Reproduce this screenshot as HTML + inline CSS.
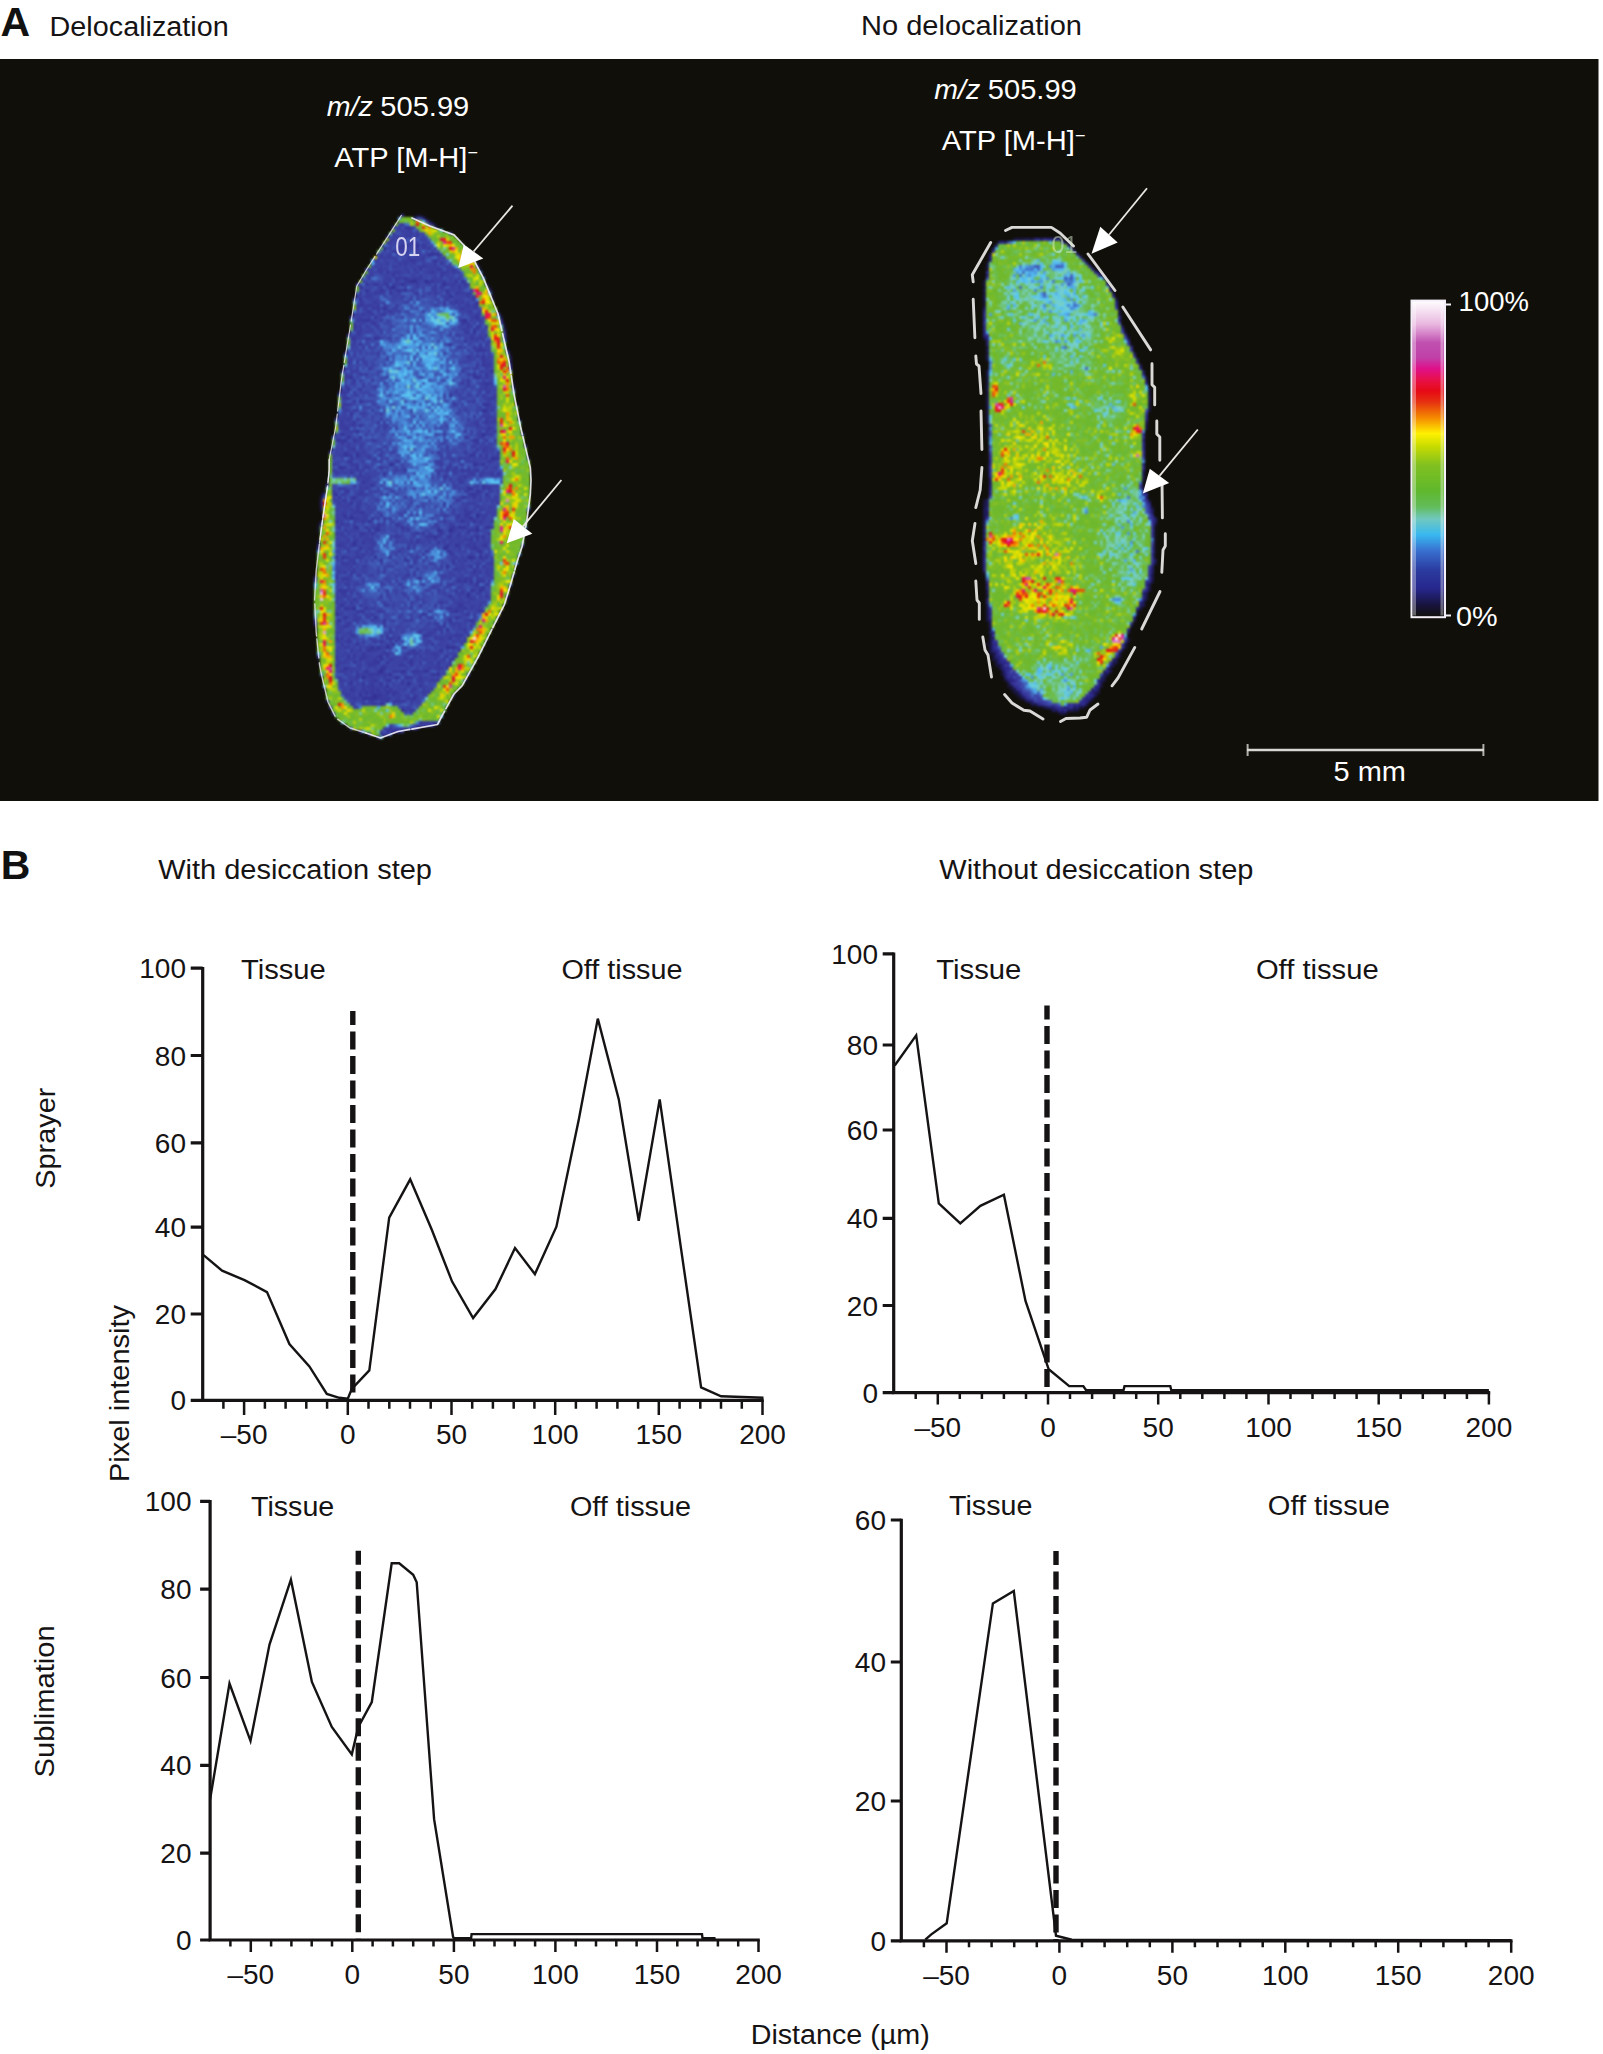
<!DOCTYPE html>
<html lang="en">
<head>
<meta charset="utf-8">
<title>Figure: delocalization</title>
<style>
html,body{margin:0;padding:0;background:#fff;}
body{width:1603px;height:2054px;overflow:hidden;}
svg{display:block;font-family:'Liberation Sans', sans-serif;}
</style>
</head>
<body>
<svg width="1603" height="2054" viewBox="0 0 1603 2054">
<defs>
<filter id="heatL" x="0" y="0" width="100%" height="100%" filterUnits="objectBoundingBox" color-interpolation-filters="sRGB">
<feTurbulence type="fractalNoise" baseFrequency="0.3" numOctaves="2" seed="7" result="t"/>
<feColorMatrix in="t" type="matrix" values="1 0 0 0 0  1 0 0 0 0  1 0 0 0 0  0 0 0 0 1" result="n"/>
<feComposite in="SourceGraphic" in2="n" operator="arithmetic" k1="1.1" k2="0.45" k3="0" k4="0" result="v"/>
<feFlood x="297" y="197" width="1" height="1" flood-color="#000" result="dot"/>
<feOffset in="dot" dx="0" dy="0" x="296" y="196" width="3" height="3" result="cell"/>
<feTile in="cell" result="grid"/>
<feComposite in="v" in2="grid" operator="in" result="samp"/>
<feMorphology in="samp" operator="dilate" radius="1" result="mos"/>
<feComponentTransfer in="mos" result="col">
<feFuncR type="table" tableValues="0.067 0.075 0.084 0.093 0.102 0.118 0.133 0.149 0.165 0.178 0.192 0.206 0.220 0.225 0.229 0.234 0.239 0.245 0.250 0.256 0.263 0.272 0.281 0.290 0.304 0.318 0.331 0.345 0.376 0.408 0.439 0.471 0.459 0.447 0.435 0.424 0.424 0.424 0.424 0.424 0.424 0.432 0.441 0.450 0.459 0.468 0.477 0.486 0.533 0.580 0.627 0.675 0.722 0.769 0.812 0.856 0.899 0.943 0.964 0.963 0.963 0.962 0.961 0.949 0.937 0.925 0.914 0.902 0.897 0.891 0.886 0.881 0.884 0.892 0.901 0.910 0.901 0.892 0.883 0.865 0.838 0.811 0.784 0.791 0.798 0.804 0.811 0.822 0.843 0.865 0.886 0.907 0.928 0.944 0.952 0.960 0.968 0.976 0.984 0.992 1.000"/>
<feFuncG type="table" tableValues="0.059 0.066 0.073 0.079 0.086 0.102 0.118 0.133 0.149 0.165 0.180 0.196 0.212 0.228 0.245 0.262 0.278 0.309 0.339 0.369 0.412 0.468 0.524 0.580 0.629 0.678 0.727 0.776 0.786 0.796 0.806 0.816 0.800 0.784 0.769 0.753 0.747 0.740 0.734 0.728 0.722 0.724 0.726 0.728 0.731 0.733 0.735 0.737 0.754 0.771 0.788 0.805 0.822 0.839 0.857 0.874 0.892 0.909 0.878 0.800 0.722 0.643 0.565 0.489 0.414 0.339 0.264 0.188 0.154 0.120 0.087 0.053 0.043 0.050 0.056 0.063 0.063 0.063 0.063 0.090 0.143 0.197 0.251 0.278 0.304 0.331 0.358 0.396 0.459 0.523 0.587 0.651 0.715 0.766 0.800 0.833 0.866 0.900 0.933 0.967 1.000"/>
<feFuncB type="table" tableValues="0.039 0.100 0.161 0.222 0.282 0.345 0.408 0.471 0.533 0.551 0.569 0.586 0.604 0.618 0.631 0.645 0.659 0.681 0.704 0.726 0.756 0.794 0.832 0.871 0.894 0.918 0.941 0.965 0.920 0.875 0.829 0.784 0.682 0.580 0.478 0.376 0.337 0.298 0.259 0.220 0.180 0.177 0.174 0.170 0.167 0.164 0.160 0.157 0.133 0.110 0.086 0.063 0.039 0.016 0.012 0.009 0.005 0.002 0.000 0.000 0.000 0.000 0.000 0.013 0.025 0.038 0.050 0.063 0.066 0.070 0.073 0.077 0.114 0.173 0.231 0.290 0.362 0.434 0.505 0.558 0.592 0.625 0.659 0.679 0.699 0.719 0.739 0.761 0.788 0.814 0.841 0.867 0.894 0.915 0.927 0.939 0.951 0.963 0.976 0.988 1.000"/>
</feComponentTransfer>
<feGaussianBlur in="col" stdDeviation="0.8"/>
</filter>
<filter id="heatR" x="0" y="0" width="100%" height="100%" filterUnits="objectBoundingBox" color-interpolation-filters="sRGB">
<feTurbulence type="fractalNoise" baseFrequency="0.3" numOctaves="2" seed="7" result="t"/>
<feColorMatrix in="t" type="matrix" values="1 0 0 0 0  1 0 0 0 0  1 0 0 0 0  0 0 0 0 1" result="n"/>
<feComposite in="SourceGraphic" in2="n" operator="arithmetic" k1="1.1" k2="0.45" k3="0" k4="0" result="v"/>
<feFlood x="951" y="206" width="1" height="1" flood-color="#000" result="dot"/>
<feOffset in="dot" dx="0" dy="0" x="950" y="205" width="3" height="3" result="cell"/>
<feTile in="cell" result="grid"/>
<feComposite in="v" in2="grid" operator="in" result="samp"/>
<feMorphology in="samp" operator="dilate" radius="1" result="mos"/>
<feComponentTransfer in="mos" result="col">
<feFuncR type="table" tableValues="0.067 0.075 0.084 0.093 0.102 0.118 0.133 0.149 0.165 0.178 0.192 0.206 0.220 0.225 0.229 0.234 0.239 0.245 0.250 0.256 0.263 0.272 0.281 0.290 0.304 0.318 0.331 0.345 0.376 0.408 0.439 0.471 0.459 0.447 0.435 0.424 0.424 0.424 0.424 0.424 0.424 0.432 0.441 0.450 0.459 0.468 0.477 0.486 0.533 0.580 0.627 0.675 0.722 0.769 0.812 0.856 0.899 0.943 0.964 0.963 0.963 0.962 0.961 0.949 0.937 0.925 0.914 0.902 0.897 0.891 0.886 0.881 0.884 0.892 0.901 0.910 0.901 0.892 0.883 0.865 0.838 0.811 0.784 0.791 0.798 0.804 0.811 0.822 0.843 0.865 0.886 0.907 0.928 0.944 0.952 0.960 0.968 0.976 0.984 0.992 1.000"/>
<feFuncG type="table" tableValues="0.059 0.066 0.073 0.079 0.086 0.102 0.118 0.133 0.149 0.165 0.180 0.196 0.212 0.228 0.245 0.262 0.278 0.309 0.339 0.369 0.412 0.468 0.524 0.580 0.629 0.678 0.727 0.776 0.786 0.796 0.806 0.816 0.800 0.784 0.769 0.753 0.747 0.740 0.734 0.728 0.722 0.724 0.726 0.728 0.731 0.733 0.735 0.737 0.754 0.771 0.788 0.805 0.822 0.839 0.857 0.874 0.892 0.909 0.878 0.800 0.722 0.643 0.565 0.489 0.414 0.339 0.264 0.188 0.154 0.120 0.087 0.053 0.043 0.050 0.056 0.063 0.063 0.063 0.063 0.090 0.143 0.197 0.251 0.278 0.304 0.331 0.358 0.396 0.459 0.523 0.587 0.651 0.715 0.766 0.800 0.833 0.866 0.900 0.933 0.967 1.000"/>
<feFuncB type="table" tableValues="0.039 0.100 0.161 0.222 0.282 0.345 0.408 0.471 0.533 0.551 0.569 0.586 0.604 0.618 0.631 0.645 0.659 0.681 0.704 0.726 0.756 0.794 0.832 0.871 0.894 0.918 0.941 0.965 0.920 0.875 0.829 0.784 0.682 0.580 0.478 0.376 0.337 0.298 0.259 0.220 0.180 0.177 0.174 0.170 0.167 0.164 0.160 0.157 0.133 0.110 0.086 0.063 0.039 0.016 0.012 0.009 0.005 0.002 0.000 0.000 0.000 0.000 0.000 0.013 0.025 0.038 0.050 0.063 0.066 0.070 0.073 0.077 0.114 0.173 0.231 0.290 0.362 0.434 0.505 0.558 0.592 0.625 0.659 0.679 0.699 0.719 0.739 0.761 0.788 0.814 0.841 0.867 0.894 0.915 0.927 0.939 0.951 0.963 0.976 0.988 1.000"/>
</feComponentTransfer>
<feGaussianBlur in="col" stdDeviation="0.8"/>
</filter>
<filter id="b1" x="-20%" y="-20%" width="140%" height="140%"><feGaussianBlur stdDeviation="1"/></filter>
<filter id="b2" x="-30%" y="-30%" width="160%" height="160%"><feGaussianBlur stdDeviation="2.2"/></filter>
<filter id="b4" x="-40%" y="-40%" width="180%" height="180%"><feGaussianBlur stdDeviation="4.5"/></filter>
<filter id="b7" x="-50%" y="-50%" width="200%" height="200%"><feGaussianBlur stdDeviation="7"/></filter>
<filter id="soft" x="-5%" y="-5%" width="110%" height="110%"><feGaussianBlur stdDeviation="0.6"/></filter>
<linearGradient id="cbar" x1="0" y1="1" x2="0" y2="0">
<stop offset="0.000" stop-color="#110f0a"/>
<stop offset="0.040" stop-color="#181440"/>
<stop offset="0.090" stop-color="#26268c"/>
<stop offset="0.150" stop-color="#2b3ca0"/>
<stop offset="0.210" stop-color="#3870d0"/>
<stop offset="0.260" stop-color="#38b8f0"/>
<stop offset="0.310" stop-color="#70c8c0"/>
<stop offset="0.350" stop-color="#62bc58"/>
<stop offset="0.400" stop-color="#60b82c"/>
<stop offset="0.480" stop-color="#80c020"/>
<stop offset="0.540" stop-color="#c8dc00"/>
<stop offset="0.580" stop-color="#fff000"/>
<stop offset="0.630" stop-color="#f58a00"/>
<stop offset="0.680" stop-color="#e63010"/>
<stop offset="0.714" stop-color="#e60a14"/>
<stop offset="0.750" stop-color="#e8104a"/>
<stop offset="0.785" stop-color="#e0108a"/>
<stop offset="0.820" stop-color="#c040a8"/>
<stop offset="0.867" stop-color="#c050b0"/>
<stop offset="0.926" stop-color="#e9b8e0"/>
<stop offset="1.000" stop-color="#ffffff"/>
</linearGradient>
</defs>
<text x="0.4" y="35.5" font-size="41.0" font-weight="bold" fill="#111">A</text>
<text x="49.6" y="35.5" font-size="28.4" textLength="179.1" lengthAdjust="spacingAndGlyphs" fill="#161314">Delocalization</text>
<text x="861.0" y="35.2" font-size="28.4" textLength="221.0" lengthAdjust="spacingAndGlyphs" fill="#161314">No delocalization</text>
<rect x="0" y="59" width="1598.5" height="742" fill="#110f0a"/>
<g filter="url(#heatL)">
<rect x="296" y="196" width="256" height="560" fill="#000"/>
<polygon points="401.4,215.4 412.0,218.0 429.8,226.0 454.0,234.9 468.7,250.3 483.3,277.9 497.9,313.5 509.2,362.2 514.1,394.6 520.6,427.0 530.3,467.6 531.0,480.0 530.3,494.3 527.1,518.7 522.2,546.2 517.4,560.8 510.9,583.5 504.4,604.6 494.6,624.0 478.4,656.5 462.2,685.7 454.0,694.0 443.0,714.0 437.5,724.5 398.0,731.5 380.5,738.0 366.0,733.0 350.0,728.0 336.0,718.0 328.0,702.0 322.0,677.0 319.5,664.6 316.2,632.2 314.6,599.8 316.2,570.6 319.5,543.0 322.7,518.7 327.6,486.2 329.2,470.0 329.2,459.5 335.7,427.0 341.4,380.0 347.0,346.0 350.3,326.5 356.8,286.0 366.5,269.7" fill="#6e6e6e"/>
<path d="M416.0 221.0 L441.0 238.0 L458.0 252.0 L473.0 271.0 L487.0 299.0 L497.0 326.0 L504.0 362.0 L507.5 400.0 L510.5 435.0 L517.0 470.0 L515.0 500.0 L509.0 530.0 L506.0 565.0 L501.0 596.0 L488.0 622.0 L471.0 652.0 L455.0 679.0 L439.0 702.0" fill="none" stroke="#888888" stroke-width="8" stroke-dasharray="22 9 8 14 35 7 12 18 27 11" stroke-dashoffset="0" filter="url(#b2)"/>
<path d="M416.0 221.0 L441.0 238.0 L458.0 252.0 L473.0 271.0 L487.0 299.0 L497.0 326.0 L504.0 362.0 L507.5 400.0 L510.5 435.0 L517.0 470.0 L515.0 500.0 L509.0 530.0 L506.0 565.0 L501.0 596.0 L488.0 622.0 L471.0 652.0 L455.0 679.0 L439.0 702.0" fill="none" stroke="#999999" stroke-width="4.5" stroke-dasharray="13 11 5 17 24 9 7 21 16 13" stroke-dashoffset="9" filter="url(#b1)"/>
<path d="M347.0 714.0 L334.0 695.0 L327.0 665.0 L325.0 620.0 L324.0 570.0 L326.0 530.0 L329.0 495.0" fill="none" stroke="#888888" stroke-width="8" stroke-dasharray="22 9 8 14 35 7 12 18 27 11" stroke-dashoffset="7" filter="url(#b2)"/>
<path d="M347.0 714.0 L334.0 695.0 L327.0 665.0 L325.0 620.0 L324.0 570.0 L326.0 530.0 L329.0 495.0" fill="none" stroke="#999999" stroke-width="4.5" stroke-dasharray="13 11 5 17 24 9 7 21 16 13" stroke-dashoffset="16" filter="url(#b1)"/>
<polyline points="441.0,239.0 450.0,246.0 457.0,252.0" fill="none" stroke="#bbbbbb" stroke-width="5" stroke-dasharray="9 4 5 5 13 6 6 3" filter="url(#b1)"/>
<polyline points="475.0,288.0 484.0,306.0 492.0,326.0 498.0,348.0 503.0,372.0 506.0,392.0" fill="none" stroke="#bbbbbb" stroke-width="5" stroke-dasharray="9 4 5 5 13 6 6 3" filter="url(#b1)"/>
<polyline points="501.0,418.0 504.0,440.0 509.0,462.0" fill="none" stroke="#bbbbbb" stroke-width="5" stroke-dasharray="9 4 5 5 13 6 6 3" filter="url(#b1)"/>
<polyline points="509.0,484.0 506.0,506.0 502.0,528.0 501.0,543.0" fill="none" stroke="#bbbbbb" stroke-width="5" stroke-dasharray="9 4 5 5 13 6 6 3" filter="url(#b1)"/>
<polyline points="497.0,560.0 497.0,585.0 497.0,606.0" fill="none" stroke="#bbbbbb" stroke-width="5" stroke-dasharray="9 4 5 5 13 6 6 3" filter="url(#b1)"/>
<polyline points="488.0,614.0 479.0,630.0 470.0,645.0" fill="none" stroke="#bbbbbb" stroke-width="5" stroke-dasharray="9 4 5 5 13 6 6 3" filter="url(#b1)"/>
<polyline points="462.0,665.0 454.0,678.0 446.0,689.0" fill="none" stroke="#bbbbbb" stroke-width="5" stroke-dasharray="9 4 5 5 13 6 6 3" filter="url(#b1)"/>
<polyline points="326.0,500.0 324.0,524.0" fill="none" stroke="#bbbbbb" stroke-width="5" stroke-dasharray="9 4 5 5 13 6 6 3" filter="url(#b1)"/>
<polyline points="321.0,566.0 322.0,600.0 324.0,630.0 326.0,650.0" fill="none" stroke="#bbbbbb" stroke-width="5" stroke-dasharray="9 4 5 5 13 6 6 3" filter="url(#b1)"/>
<polyline points="328.0,664.0 331.0,684.0" fill="none" stroke="#bbbbbb" stroke-width="5" stroke-dasharray="9 4 5 5 13 6 6 3" filter="url(#b1)"/>
<polygon points="400.0,221.0 411.0,225.0 423.3,232.4 446.0,256.8 462.2,271.4 478.4,300.6 488.2,329.8 494.6,362.2 497.1,410.9 497.9,443.3 502.8,475.8 499.5,502.4 491.4,534.9 493.8,567.3 491.4,599.8 478.4,620.8 462.2,648.4 450.0,668.0 430.0,694.0 420.0,706.0 412.0,716.0 405.0,716.0 398.0,707.0 388.0,704.0 380.0,708.0 366.0,705.0 355.0,710.0 344.0,700.0 337.0,685.0 334.9,664.6 334.0,616.0 333.3,567.3 334.0,518.7 332.4,490.0 331.0,470.0 331.0,459.5 337.5,427.0 343.0,380.0 349.0,346.0 352.0,326.5 358.5,286.0 368.0,270.5" fill="#282828" filter="url(#soft)"/>
<polygon points="379.0,730.0 390.0,725.0 410.0,726.0 420.0,721.0 435.0,720.0 439.0,724.5 410.0,730.0 398.0,733.0 382.0,737.0" fill="#242424" filter="url(#soft)"/>
<path d="M375.5 710V730" stroke="#333333" stroke-width="3" fill="none" filter="url(#soft)"/>
<ellipse cx="392" cy="716" rx="5" ry="2.6" fill="#999999" filter="url(#b1)" transform="rotate(25 392 716)"/>
<ellipse cx="343" cy="481" rx="14" ry="3.5" fill="#5c5c5c" filter="url(#b1)"/>
<ellipse cx="491" cy="481" rx="10" ry="2.3" fill="#4f4f4f" filter="url(#b1)"/>
<ellipse cx="474" cy="481.5" rx="9" ry="1.7" fill="#454545" filter="url(#b1)"/>
<ellipse cx="420" cy="380" rx="44.0" ry="90.0" fill="#2f2f2f" filter="url(#b7)"/>
<ellipse cx="385" cy="400" rx="30.0" ry="80.0" fill="#2c2c2c" filter="url(#b7)"/>
<ellipse cx="455" cy="400" rx="22.0" ry="70.0" fill="#2c2c2c" filter="url(#b7)"/>
<ellipse cx="418" cy="372" rx="34.0" ry="62.0" fill="#323232" filter="url(#b7)"/>
<ellipse cx="415" cy="500" rx="45.0" ry="28.0" fill="#2e2e2e" filter="url(#b7)"/>
<ellipse cx="405" cy="585" rx="45.0" ry="45.0" fill="#2b2b2b" filter="url(#b7)"/>
<ellipse cx="443" cy="318" rx="17.0" ry="10.0" fill="#414141" filter="url(#b2)"/>
<ellipse cx="447" cy="317" rx="8.0" ry="5.0" fill="#4f4f4f" filter="url(#b2)"/>
<ellipse cx="417" cy="352" rx="28.0" ry="17.0" fill="#393939" filter="url(#b4)"/>
<ellipse cx="410" cy="345" rx="9.0" ry="6.0" fill="#454545" filter="url(#b2)"/>
<ellipse cx="432" cy="360" rx="9.0" ry="14.0" fill="#404040" filter="url(#b2)"/>
<ellipse cx="400" cy="372" rx="14.0" ry="12.0" fill="#3c3c3c" filter="url(#b2)"/>
<ellipse cx="450" cy="374" rx="9.0" ry="14.0" fill="#393939" filter="url(#b2)"/>
<ellipse cx="418" cy="392" rx="24.0" ry="16.0" fill="#3c3c3c" filter="url(#b4)"/>
<ellipse cx="398" cy="410" rx="16.0" ry="12.0" fill="#393939" filter="url(#b2)"/>
<ellipse cx="438" cy="412" rx="14.0" ry="12.0" fill="#3b3b3b" filter="url(#b2)"/>
<ellipse cx="415" cy="436" rx="24.0" ry="16.0" fill="#393939" filter="url(#b4)"/>
<ellipse cx="408" cy="452" rx="9.0" ry="9.0" fill="#3d3d3d" filter="url(#b2)"/>
<ellipse cx="422" cy="466" rx="13.0" ry="14.0" fill="#3b3b3b" filter="url(#b2)"/>
<ellipse cx="455" cy="430" rx="8.0" ry="14.0" fill="#393939" filter="url(#b2)"/>
<ellipse cx="382" cy="395" rx="7.0" ry="10.0" fill="#393939" filter="url(#b2)"/>
<ellipse cx="385" cy="345" rx="5.0" ry="5.0" fill="#3b3b3b" filter="url(#b2)"/>
<ellipse cx="386" cy="300" rx="4.0" ry="4.0" fill="#383838" filter="url(#b2)"/>
<ellipse cx="376" cy="278" rx="4.0" ry="3.0" fill="#383838" filter="url(#b2)"/>
<ellipse cx="405" cy="482" rx="28.0" ry="6.0" fill="#3b3b3b" filter="url(#b2)"/>
<ellipse cx="432" cy="492" rx="24.0" ry="8.0" fill="#373737" filter="url(#b2)"/>
<ellipse cx="390" cy="505" rx="10.0" ry="10.0" fill="#363636" filter="url(#b2)"/>
<ellipse cx="420" cy="520" rx="14.0" ry="10.0" fill="#363636" filter="url(#b2)"/>
<ellipse cx="385" cy="545" rx="8.0" ry="14.0" fill="#363636" filter="url(#b2)"/>
<ellipse cx="438" cy="555" rx="8.0" ry="8.0" fill="#373737" filter="url(#b2)"/>
<ellipse cx="372" cy="588" rx="7.0" ry="7.0" fill="#393939" filter="url(#b2)"/>
<ellipse cx="415" cy="585" rx="9.0" ry="7.0" fill="#373737" filter="url(#b2)"/>
<ellipse cx="432" cy="577" rx="8.0" ry="6.0" fill="#383838" filter="url(#b2)"/>
<ellipse cx="440" cy="615" rx="8.0" ry="5.0" fill="#3b3b3b" filter="url(#b2)"/>
<ellipse cx="370" cy="631" rx="14.0" ry="5.5" fill="#4f4f4f" filter="url(#b2)"/>
<ellipse cx="364" cy="631" rx="6.0" ry="3.0" fill="#616161" filter="url(#b1)"/>
<ellipse cx="412" cy="640" rx="10.0" ry="7.0" fill="#454545" filter="url(#b2)"/>
<ellipse cx="398" cy="650" rx="4.0" ry="6.0" fill="#3d3d3d" filter="url(#b1)"/>
<ellipse cx="375" cy="690" rx="16" ry="10" fill="#202020" filter="url(#b4)"/>
<ellipse cx="372" cy="660" rx="10" ry="8" fill="#212121" filter="url(#b4)"/>
</g>
<g fill="none" stroke="#f1eef8" stroke-linejoin="round" stroke-linecap="round" filter="url(#soft)">
<polyline points="401.4,215.4 366.5,269.7 356.8,286.0 350.3,326.5 347.0,346.0 341.4,380.0 335.7,427.0 329.2,459.5 329.2,470.0 327.6,486.2 322.7,518.7 319.5,543.0" stroke-width="1.2" stroke-dasharray="46 3 70 4 38 3" opacity="0.8"/>
<polyline points="412.0,218.0 429.8,226.0 454.0,234.9 468.7,250.3 483.3,277.9 497.9,313.5 509.2,362.2 514.1,394.6 520.6,427.0 530.3,467.6 531.0,480.0 530.3,494.3 527.1,518.7 522.2,546.2 517.4,560.8 510.9,583.5 504.4,604.6 494.6,624.0 478.4,656.5 462.2,685.7 454.0,694.0 443.0,714.0 437.5,724.5 398.0,731.5 380.5,738.0 366.0,733.0" stroke-width="1.7" stroke-dasharray="60 2 92 3 41 2" opacity="0.9"/>
<polyline points="366.0,733.0 350.0,728.0 336.0,718.0 328.0,702.0 322.0,677.0 319.5,664.6 316.2,632.2 314.6,599.8 316.2,570.6 319.5,543.0 322.7,518.7 327.6,486.2 329.2,470.0 329.2,459.5" stroke-width="1.4" stroke-dasharray="32 4 56 5 19 3" opacity="0.75"/>
</g>
<text x="395.3" y="255.8" font-size="27.0" textLength="25.0" lengthAdjust="spacingAndGlyphs" fill="#e4e0f8" opacity="0.92">01</text>
<g filter="url(#heatR)">
<rect x="950" y="205" width="240" height="540" fill="#000"/>
<polygon points="1000.5,243.4 1027.3,241.2 1051.8,239.9 1060.0,241.0 1067.0,246.0 1075.0,253.0 1092.4,270.4 1104.5,281.0 1115.0,301.8 1120.2,328.0 1129.0,348.0 1139.4,367.3 1146.4,384.8 1147.2,402.3 1146.4,412.0 1144.0,426.0 1141.2,443.7 1143.5,461.0 1141.0,478.6 1138.6,496.0 1143.7,509.0 1149.8,522.0 1152.4,540.0 1151.4,556.0 1146.1,581.0 1139.1,603.7 1128.6,628.2 1118.2,650.9 1104.2,670.1 1092.0,689.3 1079.7,701.5 1062.3,705.0 1044.8,699.8 1041.3,687.6 1027.3,680.6 1013.4,668.3 1001.1,650.9 994.1,633.4 990.7,607.2 987.2,572.3 985.4,537.3 988.9,511.1 992.4,484.9 990.7,450.0 990.7,432.0 989.8,397.0 990.7,362.1 987.0,327.2 987.0,283.5 989.5,266.0 993.5,252.0" fill="none" stroke="#161616" stroke-width="4.5" stroke-linejoin="round" filter="url(#b1)"/>
<polyline points="990.0,600.0 993.0,628.0 999.0,648.0" fill="none" stroke="#161616" stroke-width="7.0" stroke-linecap="round" stroke-linejoin="round" filter="url(#b2)"/>
<polyline points="998.0,644.0 1006.0,661.0 1018.0,677.0 1030.0,689.0 1040.0,697.0" fill="none" stroke="#1b1b1b" stroke-width="15.0" stroke-linecap="round" stroke-linejoin="round" filter="url(#b4)"/>
<polyline points="1012.0,674.0 1022.0,686.0 1032.0,694.0" fill="none" stroke="#242424" stroke-width="13.0" stroke-linecap="round" stroke-linejoin="round" filter="url(#b4)"/>
<polyline points="1040.0,700.0 1062.0,709.0 1082.0,704.0 1096.0,689.0" fill="none" stroke="#171717" stroke-width="8.0" stroke-linecap="round" stroke-linejoin="round" filter="url(#b2)"/>
<polyline points="1096.0,689.0 1112.0,664.0 1126.0,640.0" fill="none" stroke="#141414" stroke-width="5.0" stroke-linecap="round" stroke-linejoin="round" filter="url(#b2)"/>
<polyline points="1141.0,494.0 1146.0,508.0 1152.0,522.0" fill="none" stroke="#1a1a1a" stroke-width="8.0" stroke-linecap="round" stroke-linejoin="round" filter="url(#b2)"/>
<polyline points="1145.0,428.0 1143.5,443.0 1145.0,455.0" fill="none" stroke="#1c1c1c" stroke-width="6.0" stroke-linecap="round" stroke-linejoin="round" filter="url(#b2)"/>
<polyline points="1152.0,560.0 1148.0,585.0 1141.0,605.0" fill="none" stroke="#171717" stroke-width="6.0" stroke-linecap="round" stroke-linejoin="round" filter="url(#b2)"/>
<polyline points="984.0,310.0 985.0,335.0" fill="none" stroke="#1c1c1c" stroke-width="6.0" stroke-linecap="round" stroke-linejoin="round" filter="url(#b2)"/>
<polyline points="988.0,500.0 985.0,535.0 987.0,570.0" fill="none" stroke="#171717" stroke-width="5.0" stroke-linecap="round" stroke-linejoin="round" filter="url(#b2)"/>
<polygon points="1000.5,243.4 1027.3,241.2 1051.8,239.9 1060.0,241.0 1067.0,246.0 1075.0,253.0 1092.4,270.4 1104.5,281.0 1115.0,301.8 1120.2,328.0 1129.0,348.0 1139.4,367.3 1146.4,384.8 1147.2,402.3 1146.4,412.0 1144.0,426.0 1141.2,443.7 1143.5,461.0 1141.0,478.6 1138.6,496.0 1143.7,509.0 1149.8,522.0 1152.4,540.0 1151.4,556.0 1146.1,581.0 1139.1,603.7 1128.6,628.2 1118.2,650.9 1104.2,670.1 1092.0,689.3 1079.7,701.5 1062.3,705.0 1044.8,699.8 1041.3,687.6 1027.3,680.6 1013.4,668.3 1001.1,650.9 994.1,633.4 990.7,607.2 987.2,572.3 985.4,537.3 988.9,511.1 992.4,484.9 990.7,450.0 990.7,432.0 989.8,397.0 990.7,362.1 987.0,327.2 987.0,283.5 989.5,266.0 993.5,252.0" fill="#6a6a6a" filter="url(#soft)"/>
<ellipse cx="1050.0" cy="300.0" rx="46.0" ry="40.0" fill="#5b5b5b" filter="url(#b7)" transform="rotate(20 1050 300)"/>
<ellipse cx="1060.0" cy="330.0" rx="38.0" ry="26.0" fill="#595959" filter="url(#b7)"/>
<ellipse cx="1125.0" cy="540.0" rx="20.0" ry="48.0" fill="#5c5c5c" filter="url(#b7)"/>
<ellipse cx="1055.0" cy="680.0" rx="28.0" ry="18.0" fill="#5b5b5b" filter="url(#b7)"/>
<ellipse cx="1045.0" cy="290.0" rx="38.0" ry="16.0" fill="#4f4f4f" filter="url(#b4)" transform="rotate(12 1045 290)"/>
<ellipse cx="1030.0" cy="278.0" rx="16.0" ry="8.0" fill="#4a4a4a" filter="url(#b2)"/>
<ellipse cx="1060.0" cy="300.0" rx="18.0" ry="14.0" fill="#4c4c4c" filter="url(#b4)"/>
<ellipse cx="1075.0" cy="322.0" rx="24.0" ry="12.0" fill="#4f4f4f" filter="url(#b4)"/>
<ellipse cx="1040.0" cy="320.0" rx="16.0" ry="10.0" fill="#525252" filter="url(#b4)"/>
<ellipse cx="1010.0" cy="300.0" rx="8.0" ry="16.0" fill="#525252" filter="url(#b4)"/>
<ellipse cx="1070.0" cy="340.0" rx="22.0" ry="8.0" fill="#505050" filter="url(#b4)"/>
<ellipse cx="1072.0" cy="362.0" rx="22.0" ry="8.0" fill="#525252" filter="url(#b4)"/>
<ellipse cx="1008.0" cy="362.0" rx="9.0" ry="6.0" fill="#525252" filter="url(#b2)"/>
<ellipse cx="1110.0" cy="408.0" rx="18.0" ry="12.0" fill="#525252" filter="url(#b4)"/>
<ellipse cx="1018.0" cy="438.0" rx="8.0" ry="4.0" fill="#4f4f4f" filter="url(#b2)"/>
<ellipse cx="1030.0" cy="268.0" rx="16.0" ry="4.0" fill="#333333" filter="url(#b2)" transform="rotate(-8 1030 268)"/>
<ellipse cx="1058.0" cy="266.0" rx="8.0" ry="5.0" fill="#303030" filter="url(#b2)"/>
<ellipse cx="1070.0" cy="280.0" rx="6.0" ry="8.0" fill="#333333" filter="url(#b2)"/>
<ellipse cx="1044.0" cy="296.0" rx="4.0" ry="4.0" fill="#383838" filter="url(#b1)"/>
<ellipse cx="1074.0" cy="306.0" rx="5.0" ry="4.0" fill="#363636" filter="url(#b1)"/>
<ellipse cx="1066.0" cy="315.0" rx="3.0" ry="3.0" fill="#383838" filter="url(#b1)"/>
<ellipse cx="1092.0" cy="315.0" rx="4.0" ry="2.5" fill="#3b3b3b" filter="url(#b1)"/>
<ellipse cx="1086.0" cy="369.0" rx="3.0" ry="3.0" fill="#383838" filter="url(#b1)"/>
<ellipse cx="1017.0" cy="295.0" rx="3.0" ry="3.0" fill="#454545" filter="url(#b1)"/>
<ellipse cx="1064.0" cy="349.0" rx="3.0" ry="3.0" fill="#454545" filter="url(#b1)"/>
<ellipse cx="1072.0" cy="405.0" rx="3.5" ry="3.5" fill="#474747" filter="url(#b1)"/>
<ellipse cx="1030.0" cy="435.0" rx="30.0" ry="16.0" fill="#808080" filter="url(#b7)"/>
<ellipse cx="1010.0" cy="470.0" rx="14.0" ry="22.0" fill="#858585" filter="url(#b4)"/>
<ellipse cx="1050.0" cy="455.0" rx="26.0" ry="10.0" fill="#828282" filter="url(#b4)"/>
<ellipse cx="1035.0" cy="560.0" rx="40.0" ry="42.0" fill="#7d7d7d" filter="url(#b7)"/>
<ellipse cx="1020.0" cy="545.0" rx="22.0" ry="14.0" fill="#8a8a8a" filter="url(#b4)"/>
<ellipse cx="1045.0" cy="600.0" rx="28.0" ry="16.0" fill="#8c8c8c" filter="url(#b4)"/>
<ellipse cx="1060.0" cy="480.0" rx="30.0" ry="10.0" fill="#858585" filter="url(#b4)"/>
<ellipse cx="1118.0" cy="350.0" rx="8.0" ry="22.0" fill="#7a7a7a" filter="url(#b4)" transform="rotate(-20 1118 350)"/>
<ellipse cx="1135.0" cy="400.0" rx="6.0" ry="18.0" fill="#808080" filter="url(#b4)"/>
<ellipse cx="1040.0" cy="365.0" rx="12.0" ry="5.0" fill="#858585" filter="url(#b2)"/>
<ellipse cx="1100.0" cy="495.0" rx="14.0" ry="6.0" fill="#808080" filter="url(#b2)"/>
<ellipse cx="1060.0" cy="650.0" rx="10.0" ry="12.0" fill="#808080" filter="url(#b4)"/>
<ellipse cx="1100.0" cy="660.0" rx="8.0" ry="6.0" fill="#8c8c8c" filter="url(#b2)"/>
<ellipse cx="1128.0" cy="505.0" rx="14.0" ry="22.0" fill="#525252" filter="url(#b4)"/>
<ellipse cx="1120.0" cy="545.0" rx="18.0" ry="18.0" fill="#545454" filter="url(#b4)"/>
<ellipse cx="1132.0" cy="575.0" rx="10.0" ry="14.0" fill="#4f4f4f" filter="url(#b4)"/>
<ellipse cx="1085.0" cy="497.0" rx="10.0" ry="3.0" fill="#4c4c4c" filter="url(#b2)"/>
<ellipse cx="1015.0" cy="518.0" rx="6.0" ry="3.0" fill="#474747" filter="url(#b1)"/>
<ellipse cx="1050.0" cy="672.0" rx="26.0" ry="10.0" fill="#4f4f4f" filter="url(#b4)" transform="rotate(-15 1050 672)"/>
<ellipse cx="1068.0" cy="690.0" rx="12.0" ry="8.0" fill="#4c4c4c" filter="url(#b2)" transform="rotate(-30 1068 690)"/>
<ellipse cx="1085.0" cy="655.0" rx="8.0" ry="10.0" fill="#525252" filter="url(#b4)"/>
<ellipse cx="1117.0" cy="600.0" rx="6.0" ry="3.5" fill="#383838" filter="url(#b1)"/>
<ellipse cx="1086.0" cy="511.0" rx="2.5" ry="4.0" fill="#383838" filter="url(#b1)"/>
<ellipse cx="1144.0" cy="550.0" rx="3.0" ry="3.0" fill="#404040" filter="url(#b1)"/>
<ellipse cx="999.5" cy="407.5" rx="5.9" ry="5.2" fill="#bdbdbd" filter="url(#b1)"/>
<ellipse cx="1010.0" cy="402.0" rx="4.5" ry="4.5" fill="#b8b8b8" filter="url(#b1)"/>
<ellipse cx="995.0" cy="390.0" rx="3.9" ry="7.8" fill="#a6a6a6" filter="url(#b1)"/>
<ellipse cx="1138.5" cy="429.5" rx="4.5" ry="4.5" fill="#c2c2c2" filter="url(#b1)"/>
<ellipse cx="1137.5" cy="454.5" rx="3.2" ry="3.2" fill="#b8b8b8" filter="url(#b1)"/>
<ellipse cx="1134.0" cy="436.0" rx="5.0" ry="3.0" fill="#919191" filter="url(#b1)"/>
<ellipse cx="1008.0" cy="541.0" rx="9.1" ry="4.5" fill="#bdbdbd" filter="url(#b1)"/>
<ellipse cx="992.0" cy="538.0" rx="3.9" ry="5.2" fill="#b2b2b2" filter="url(#b1)"/>
<ellipse cx="1027.0" cy="581.0" rx="6.5" ry="4.5" fill="#b8b8b8" filter="url(#b1)"/>
<ellipse cx="1022.0" cy="595.0" rx="5.2" ry="5.2" fill="#b2b2b2" filter="url(#b1)"/>
<ellipse cx="1076.0" cy="590.6" rx="9.1" ry="3.0" fill="#b8b8b8" filter="url(#b1)"/>
<ellipse cx="1071.0" cy="605.5" rx="4.5" ry="5.9" fill="#b2b2b2" filter="url(#b1)"/>
<ellipse cx="1043.0" cy="610.0" rx="7.8" ry="3.9" fill="#bababa" filter="url(#b1)"/>
<ellipse cx="1058.0" cy="614.0" rx="6.5" ry="3.0" fill="#b2b2b2" filter="url(#b1)"/>
<ellipse cx="1008.0" cy="605.0" rx="3.9" ry="3.9" fill="#b2b2b2" filter="url(#b1)"/>
<ellipse cx="1060.0" cy="581.0" rx="3.9" ry="3.9" fill="#b2b2b2" filter="url(#b1)"/>
<ellipse cx="1057.0" cy="555.0" rx="3.2" ry="3.2" fill="#b8b8b8" filter="url(#b1)"/>
<ellipse cx="1000.0" cy="475.0" rx="7.8" ry="3.2" fill="#adadad" filter="url(#b1)" transform="rotate(-45 1000 475)"/>
<ellipse cx="1004.0" cy="452.0" rx="6.5" ry="3.2" fill="#a8a8a8" filter="url(#b1)" transform="rotate(-50 1004 452)"/>
<ellipse cx="1118.0" cy="638.5" rx="6.5" ry="5.2" fill="#e0e0e0" filter="url(#b1)" transform="rotate(-30 1118 638)"/>
<ellipse cx="1113.0" cy="648.0" rx="7.8" ry="4.5" fill="#adadad" filter="url(#b1)" transform="rotate(-30 1113 648)"/>
<ellipse cx="1100.0" cy="657.0" rx="3.2" ry="5.2" fill="#adadad" filter="url(#b1)"/>
<path d="M1043 471H1090" stroke="#bdbdbd" stroke-width="4.2" stroke-dasharray="10 5 13 6" fill="none" filter="url(#b1)"/>
<path d="M987 555H1022" stroke="#bababa" stroke-width="4.2" stroke-dasharray="8 5 5 5" fill="none" filter="url(#b1)"/>
<path d="M1020 594L1055 583" stroke="#b2b2b2" stroke-width="4" stroke-dasharray="6 6" fill="none" filter="url(#b1)"/>
</g>
<g fill="none" stroke="#dbd9d7" stroke-width="2.9" stroke-linecap="round" stroke-linejoin="round">
<polyline points="1005.5,230.5 1012.0,227.4 1051.4,227.4 1060.0,233.0 1073.5,246.0"/>
<polyline points="990.7,242.5 972.3,274.8 973.2,281.8"/>
<polyline points="973.2,299.3 974.9,337.7"/>
<polyline points="975.8,356.0 976.5,364.0 979.0,366.0 981.0,393.6"/>
<polyline points="981.0,411.0 981.9,449.5"/>
<polyline points="981.9,467.5 980.2,490.0 975.8,507.6"/>
<polyline points="975.0,523.4 972.3,540.8 975.8,563.5"/>
<polyline points="975.8,581.0 977.0,600.0 979.3,603.0 979.3,619.4"/>
<polyline points="982.8,636.9 985.0,650.0 988.0,655.0 991.5,677.0"/>
<polyline points="1004.6,694.5 1012.0,703.0 1023.8,710.3 1030.0,711.0 1043.0,719.0"/>
<polyline points="1060.5,721.6 1066.0,718.5 1080.0,718.0 1086.7,717.2 1090.0,710.0 1098.0,704.0"/>
<polyline points="1112.0,685.8 1118.0,678.0 1134.8,647.4"/>
<polyline points="1141.7,629.0 1160.0,591.5"/>
<polyline points="1161.8,572.3 1163.0,550.0 1165.3,546.0 1165.3,533.8"/>
<polyline points="1162.4,517.9 1162.0,480.0"/>
<polyline points="1159.8,460.3 1159.8,437.0 1156.8,434.0 1156.8,421.0"/>
<polyline points="1154.7,404.9 1154.7,387.4 1152.0,384.8 1152.0,363.8"/>
<polyline points="1150.7,349.9 1122.8,307.0"/>
<polyline points="1115.0,290.5 1088.0,254.0"/>
</g>
<text x="1051.5" y="252.5" font-size="23.0" textLength="26.0" lengthAdjust="spacingAndGlyphs" fill="#d8f0d0" opacity="0.5">01</text>
<path d="M512.5 205.7L473.6 251.5" stroke="#ebe8e4" stroke-width="1.8" fill="none"/>
<polygon points="463.8,244.6 483.3,258.4 458.2,268.1" fill="#fff"/>
<path d="M561.4 480.0L523.0 526.4" stroke="#ebe8e4" stroke-width="1.8" fill="none"/>
<polygon points="513.8,519.0 532.3,533.8 506.7,543.3" fill="#fff"/>
<path d="M1147.0 188.3L1109.0 234.7" stroke="#ebe8e4" stroke-width="1.8" fill="none"/>
<polygon points="1100.3,226.8 1117.7,242.5 1091.5,253.8" fill="#fff"/>
<path d="M1197.8 429.5L1159.5 475.9" stroke="#ebe8e4" stroke-width="1.8" fill="none"/>
<polygon points="1149.8,468.8 1169.2,483.0 1142.8,493.6" fill="#fff"/>
<text x="326.8" y="116.3" font-size="28.4" fill="#fff"><tspan font-style="italic" textLength="46.0" lengthAdjust="spacingAndGlyphs">m/z</tspan></text>
<text x="380.3" y="116.3" font-size="28.4" textLength="89.0" lengthAdjust="spacingAndGlyphs" fill="#fff">505.99</text>
<text x="934.3" y="99.2" font-size="28.4" fill="#fff"><tspan font-style="italic" textLength="46.0" lengthAdjust="spacingAndGlyphs">m/z</tspan></text>
<text x="987.8" y="99.2" font-size="28.4" textLength="89.0" lengthAdjust="spacingAndGlyphs" fill="#fff">505.99</text>
<text x="334.3" y="167.2" font-size="28.4" textLength="133.0" lengthAdjust="spacingAndGlyphs" fill="#fff">ATP [M-H]</text>
<text x="467.5" y="158.6" font-size="18.5" textLength="10.5" lengthAdjust="spacingAndGlyphs" fill="#fff">−</text>
<text x="941.8" y="150.3" font-size="28.4" textLength="133.0" lengthAdjust="spacingAndGlyphs" fill="#fff">ATP [M-H]</text>
<text x="1075.0" y="141.7" font-size="18.5" textLength="10.5" lengthAdjust="spacingAndGlyphs" fill="#fff">−</text>
<rect x="1411.5" y="300.6" width="33.5" height="316.6" fill="url(#cbar)" stroke="#f4eff8" stroke-width="2"/>
<rect x="1413" y="302" width="3" height="313.5" fill="#fff" opacity="0.35"/>
<rect x="1440.5" y="302" width="3" height="313.5" fill="#fff" opacity="0.35"/>
<path d="M1445 304.5H1451M1445 615.5H1451" stroke="#f4eff8" stroke-width="2" fill="none"/>
<text x="1458.6" y="311.0" font-size="28.4" textLength="70.3" lengthAdjust="spacingAndGlyphs" fill="#fff">100%</text>
<text x="1455.9" y="626.2" font-size="28.4" textLength="41.6" lengthAdjust="spacingAndGlyphs" fill="#fff">0%</text>
<path d="M1247 750H1484" stroke="#d9d7d3" stroke-width="2.6" fill="none"/>
<path d="M1247.6 744V756M1483.4 744V756" stroke="#d9d7d3" stroke-width="2" fill="none" opacity="0.8"/>
<text x="1333.6" y="780.6" font-size="28.4" textLength="72.4" lengthAdjust="spacingAndGlyphs" fill="#fff">5 mm</text>
<g id="charts">
<g fill="none" stroke="#161314" stroke-linecap="butt">
<path d="M202.7 966.9 V1400.3 H763.8" stroke-width="3.2"/>
<path d="M190.7 968.2H202.7M190.7 1055.5H202.7M190.7 1142.9H202.7M190.7 1227.2H202.7M190.7 1314.0H202.7M190.7 1400.3H202.7" stroke-width="3.2"/>
<path d="M223.4 1400.3V1408.8M244.1 1400.3V1415.0M264.9 1400.3V1408.8M285.6 1400.3V1408.8M306.3 1400.3V1408.8M327.1 1400.3V1408.8M347.8 1400.3V1415.0M368.5 1400.3V1408.8M389.3 1400.3V1408.8M410.0 1400.3V1408.8M430.7 1400.3V1408.8M451.5 1400.3V1415.0M472.2 1400.3V1408.8M492.9 1400.3V1408.8M513.7 1400.3V1408.8M534.4 1400.3V1408.8M555.2 1400.3V1415.0M575.9 1400.3V1408.8M596.6 1400.3V1408.8M617.4 1400.3V1408.8M638.1 1400.3V1408.8M658.8 1400.3V1415.0M679.6 1400.3V1408.8M700.3 1400.3V1408.8M721.0 1400.3V1408.8M741.8 1400.3V1408.8M762.5 1400.3V1415.0" stroke-width="2.5"/>
<polyline points="203.6,1255.1 222.1,1270.6 244.5,1280.1 267.0,1292.1 289.4,1344.0 309.4,1366.4 326.8,1393.9 339.3,1397.8 347.8,1398.8 351.8,1388.9 369.3,1370.4 389.2,1217.7 410.2,1179.3 431.6,1229.2 452.1,1281.6 473.1,1318.0 495.5,1289.1 515.0,1248.1 534.9,1274.1 556.4,1226.7 578.8,1119.4 597.8,1018.6 618.8,1099.4 638.7,1220.7 659.7,1099.4 681.1,1249.1 701.1,1387.4 721.1,1396.3 763.5,1397.8" stroke-width="2.4" stroke-linejoin="miter"/>
<path d="M352.8 1011.0V1400.3" stroke-width="5.4" stroke-dasharray="18 6.5" stroke-dashoffset="4"/>
</g>
<text x="186.0" y="978.2" font-size="28.0" text-anchor="end" fill="#161314">100</text>
<text x="186.0" y="1065.5" font-size="28.0" text-anchor="end" fill="#161314">80</text>
<text x="186.0" y="1152.9" font-size="28.0" text-anchor="end" fill="#161314">60</text>
<text x="186.0" y="1237.2" font-size="28.0" text-anchor="end" fill="#161314">40</text>
<text x="186.0" y="1324.0" font-size="28.0" text-anchor="end" fill="#161314">20</text>
<text x="186.0" y="1410.3" font-size="28.0" text-anchor="end" fill="#161314">0</text>
<text x="244.1" y="1443.8" font-size="28.0" text-anchor="middle" fill="#161314">–50</text>
<text x="347.8" y="1443.8" font-size="28.0" text-anchor="middle" fill="#161314">0</text>
<text x="451.5" y="1443.8" font-size="28.0" text-anchor="middle" fill="#161314">50</text>
<text x="555.2" y="1443.8" font-size="28.0" text-anchor="middle" fill="#161314">100</text>
<text x="658.8" y="1443.8" font-size="28.0" text-anchor="middle" fill="#161314">150</text>
<text x="762.5" y="1443.8" font-size="28.0" text-anchor="middle" fill="#161314">200</text>
<text x="241.0" y="978.7" font-size="28.4" textLength="84.8" lengthAdjust="spacingAndGlyphs" fill="#161314">Tissue</text>
<text x="561.4" y="978.7" font-size="28.4" textLength="121.2" lengthAdjust="spacingAndGlyphs" fill="#161314">Off tissue</text>
<g fill="none" stroke="#161314" stroke-linecap="butt">
<path d="M893.7 952.5 V1392.6 H1490.2" stroke-width="3.2"/>
<path d="M882.7 953.8H893.7M882.7 1045.0H893.7M882.7 1130.0H893.7M882.7 1218.3H893.7M882.7 1305.5H893.7M882.7 1392.6H893.7" stroke-width="3.2"/>
<path d="M915.7 1392.6V1399.1M937.8 1392.6V1404.6M959.8 1392.6V1399.1M981.9 1392.6V1399.1M1003.9 1392.6V1399.1M1026.0 1392.6V1399.1M1048.0 1392.6V1404.6M1070.0 1392.6V1399.1M1092.1 1392.6V1399.1M1114.1 1392.6V1399.1M1136.2 1392.6V1399.1M1158.2 1392.6V1404.6M1180.3 1392.6V1399.1M1202.3 1392.6V1399.1M1224.4 1392.6V1399.1M1246.4 1392.6V1399.1M1268.5 1392.6V1404.6M1290.5 1392.6V1399.1M1312.5 1392.6V1399.1M1334.6 1392.6V1399.1M1356.6 1392.6V1399.1M1378.7 1392.6V1404.6M1400.7 1392.6V1399.1M1422.8 1392.6V1399.1M1444.8 1392.6V1399.1M1466.9 1392.6V1399.1M1488.9 1392.6V1404.6" stroke-width="2.5"/>
<polyline points="894.7,1065.5 916.2,1035.4 938.8,1203.3 960.3,1223.3 980.4,1205.8 1003.9,1194.7 1025.5,1301.0 1048.7,1369.3 1069.2,1386.1 1083.3,1386.1 1086.1,1390.2 1123.5,1390.2 1124.5,1386.1 1170.3,1386.1 1171.3,1390.2 1488.9,1390.2" stroke-width="2.4" stroke-linejoin="miter"/>
<path d="M1047.0 1005.4V1392.6" stroke-width="5.4" stroke-dasharray="18 6.5" stroke-dashoffset="4"/>
</g>
<text x="878.0" y="963.8" font-size="28.0" text-anchor="end" fill="#161314">100</text>
<text x="878.0" y="1055.0" font-size="28.0" text-anchor="end" fill="#161314">80</text>
<text x="878.0" y="1140.0" font-size="28.0" text-anchor="end" fill="#161314">60</text>
<text x="878.0" y="1228.3" font-size="28.0" text-anchor="end" fill="#161314">40</text>
<text x="878.0" y="1315.5" font-size="28.0" text-anchor="end" fill="#161314">20</text>
<text x="878.0" y="1402.6" font-size="28.0" text-anchor="end" fill="#161314">0</text>
<text x="937.8" y="1437.2" font-size="28.0" text-anchor="middle" fill="#161314">–50</text>
<text x="1048.0" y="1437.2" font-size="28.0" text-anchor="middle" fill="#161314">0</text>
<text x="1158.2" y="1437.2" font-size="28.0" text-anchor="middle" fill="#161314">50</text>
<text x="1268.5" y="1437.2" font-size="28.0" text-anchor="middle" fill="#161314">100</text>
<text x="1378.7" y="1437.2" font-size="28.0" text-anchor="middle" fill="#161314">150</text>
<text x="1488.9" y="1437.2" font-size="28.0" text-anchor="middle" fill="#161314">200</text>
<text x="936.3" y="979.3" font-size="28.4" textLength="85.1" lengthAdjust="spacingAndGlyphs" fill="#161314">Tissue</text>
<text x="1255.9" y="979.3" font-size="28.4" textLength="122.8" lengthAdjust="spacingAndGlyphs" fill="#161314">Off tissue</text>
<g fill="none" stroke="#161314" stroke-linecap="butt">
<path d="M210.1 1500.1 V1940.0 H759.8" stroke-width="3.2"/>
<path d="M200.1 1501.4H210.1M200.1 1589.2H210.1M200.1 1677.5H210.1M200.1 1765.3H210.1M200.1 1853.2H210.1M200.1 1940.0H210.1" stroke-width="3.2"/>
<path d="M230.4 1940.0V1946.5M250.8 1940.0V1952.0M271.1 1940.0V1946.5M291.4 1940.0V1946.5M311.7 1940.0V1946.5M332.0 1940.0V1946.5M352.3 1940.0V1952.0M372.6 1940.0V1946.5M392.9 1940.0V1946.5M413.2 1940.0V1946.5M433.5 1940.0V1946.5M453.9 1940.0V1952.0M474.2 1940.0V1946.5M494.5 1940.0V1946.5M514.8 1940.0V1946.5M535.1 1940.0V1946.5M555.4 1940.0V1952.0M575.7 1940.0V1946.5M596.0 1940.0V1946.5M616.3 1940.0V1946.5M636.6 1940.0V1946.5M657.0 1940.0V1952.0M677.3 1940.0V1946.5M697.6 1940.0V1946.5M717.9 1940.0V1946.5M738.2 1940.0V1946.5M758.5 1940.0V1952.0" stroke-width="2.5"/>
<polyline points="210.1,1799.3 229.5,1683.5 250.5,1740.9 269.5,1644.6 290.9,1579.7 311.9,1682.0 331.8,1726.9 351.8,1754.4 358.3,1726.9 371.8,1702.0 391.7,1563.3 399.2,1563.3 413.2,1574.7 416.7,1582.2 434.1,1819.2 453.1,1937.0 454.1,1938.3 471.1,1938.3 471.6,1934.1 702.0,1934.1 702.5,1938.3 714.4,1938.3 714.6,1939.5" stroke-width="2.4" stroke-linejoin="miter"/>
<path d="M358.3 1550.8V1940.0" stroke-width="5.4" stroke-dasharray="18 6.5" stroke-dashoffset="4"/>
</g>
<text x="191.5" y="1511.4" font-size="28.0" text-anchor="end" fill="#161314">100</text>
<text x="191.5" y="1599.2" font-size="28.0" text-anchor="end" fill="#161314">80</text>
<text x="191.5" y="1687.5" font-size="28.0" text-anchor="end" fill="#161314">60</text>
<text x="191.5" y="1775.3" font-size="28.0" text-anchor="end" fill="#161314">40</text>
<text x="191.5" y="1863.2" font-size="28.0" text-anchor="end" fill="#161314">20</text>
<text x="191.5" y="1950.0" font-size="28.0" text-anchor="end" fill="#161314">0</text>
<text x="250.8" y="1984.0" font-size="28.0" text-anchor="middle" fill="#161314">–50</text>
<text x="352.3" y="1984.0" font-size="28.0" text-anchor="middle" fill="#161314">0</text>
<text x="453.9" y="1984.0" font-size="28.0" text-anchor="middle" fill="#161314">50</text>
<text x="555.4" y="1984.0" font-size="28.0" text-anchor="middle" fill="#161314">100</text>
<text x="657.0" y="1984.0" font-size="28.0" text-anchor="middle" fill="#161314">150</text>
<text x="758.5" y="1984.0" font-size="28.0" text-anchor="middle" fill="#161314">200</text>
<text x="251.0" y="1515.8" font-size="28.4" textLength="83.3" lengthAdjust="spacingAndGlyphs" fill="#161314">Tissue</text>
<text x="569.9" y="1515.8" font-size="28.4" textLength="121.1" lengthAdjust="spacingAndGlyphs" fill="#161314">Off tissue</text>
<g fill="none" stroke="#161314" stroke-linecap="butt">
<path d="M901.3 1518.7 V1940.8 H1512.5" stroke-width="3.2"/>
<path d="M890.8 1520.0H901.3M890.8 1662.0H901.3M890.8 1801.0H901.3M890.8 1940.8H901.3" stroke-width="3.2"/>
<path d="M923.9 1940.8V1947.3M946.5 1940.8V1952.8M969.0 1940.8V1947.3M991.6 1940.8V1947.3M1014.2 1940.8V1947.3M1036.8 1940.8V1947.3M1059.4 1940.8V1952.8M1082.0 1940.8V1947.3M1104.6 1940.8V1947.3M1127.2 1940.8V1947.3M1149.8 1940.8V1947.3M1172.4 1940.8V1952.8M1194.9 1940.8V1947.3M1217.5 1940.8V1947.3M1240.1 1940.8V1947.3M1262.7 1940.8V1947.3M1285.3 1940.8V1952.8M1307.9 1940.8V1947.3M1330.5 1940.8V1947.3M1353.1 1940.8V1947.3M1375.7 1940.8V1947.3M1398.2 1940.8V1952.8M1420.8 1940.8V1947.3M1443.4 1940.8V1947.3M1466.0 1940.8V1947.3M1488.6 1940.8V1947.3M1511.2 1940.8V1952.8" stroke-width="2.5"/>
<polyline points="925.3,1939.7 931.0,1934.6 946.7,1923.3 992.9,1603.4 1013.8,1591.0 1056.0,1935.7 1071.8,1939.7 1511.2,1940.2" stroke-width="2.4" stroke-linejoin="miter"/>
<path d="M1056.0 1551.0V1940.8" stroke-width="5.4" stroke-dasharray="18 6.5" stroke-dashoffset="4"/>
</g>
<text x="886.0" y="1530.0" font-size="28.0" text-anchor="end" fill="#161314">60</text>
<text x="886.0" y="1672.0" font-size="28.0" text-anchor="end" fill="#161314">40</text>
<text x="886.0" y="1811.0" font-size="28.0" text-anchor="end" fill="#161314">20</text>
<text x="886.0" y="1950.8" font-size="28.0" text-anchor="end" fill="#161314">0</text>
<text x="946.5" y="1984.7" font-size="28.0" text-anchor="middle" fill="#161314">–50</text>
<text x="1059.4" y="1984.7" font-size="28.0" text-anchor="middle" fill="#161314">0</text>
<text x="1172.4" y="1984.7" font-size="28.0" text-anchor="middle" fill="#161314">50</text>
<text x="1285.3" y="1984.7" font-size="28.0" text-anchor="middle" fill="#161314">100</text>
<text x="1398.2" y="1984.7" font-size="28.0" text-anchor="middle" fill="#161314">150</text>
<text x="1511.2" y="1984.7" font-size="28.0" text-anchor="middle" fill="#161314">200</text>
<text x="949.0" y="1515.0" font-size="28.4" textLength="83.4" lengthAdjust="spacingAndGlyphs" fill="#161314">Tissue</text>
<text x="1267.8" y="1515.0" font-size="28.4" textLength="122.2" lengthAdjust="spacingAndGlyphs" fill="#161314">Off tissue</text>
<text x="0.8" y="879.4" font-size="41.0" font-weight="bold" fill="#111">B</text>
<text x="158.2" y="878.9" font-size="28.4" textLength="273.8" lengthAdjust="spacingAndGlyphs" fill="#161314">With desiccation step</text>
<text x="939.3" y="879.1" font-size="28.4" textLength="314.1" lengthAdjust="spacingAndGlyphs" fill="#161314">Without desiccation step</text>
<text transform="translate(54.5,1138.2) rotate(-90)" font-size="28.4" text-anchor="middle" fill="#161314" textLength="101" lengthAdjust="spacingAndGlyphs">Sprayer</text>
<text transform="translate(54.3,1701.4) rotate(-90)" font-size="28.4" text-anchor="middle" fill="#161314" textLength="152" lengthAdjust="spacingAndGlyphs">Sublimation</text>
<text transform="translate(128.8,1393.5) rotate(-90)" font-size="28.4" text-anchor="middle" fill="#161314" textLength="177" lengthAdjust="spacingAndGlyphs">Pixel intensity</text>
<text x="750.7" y="2043.9" font-size="28.4" textLength="179.1" lengthAdjust="spacingAndGlyphs" fill="#161314">Distance (µm)</text>
</g>
</svg>
</body>
</html>
